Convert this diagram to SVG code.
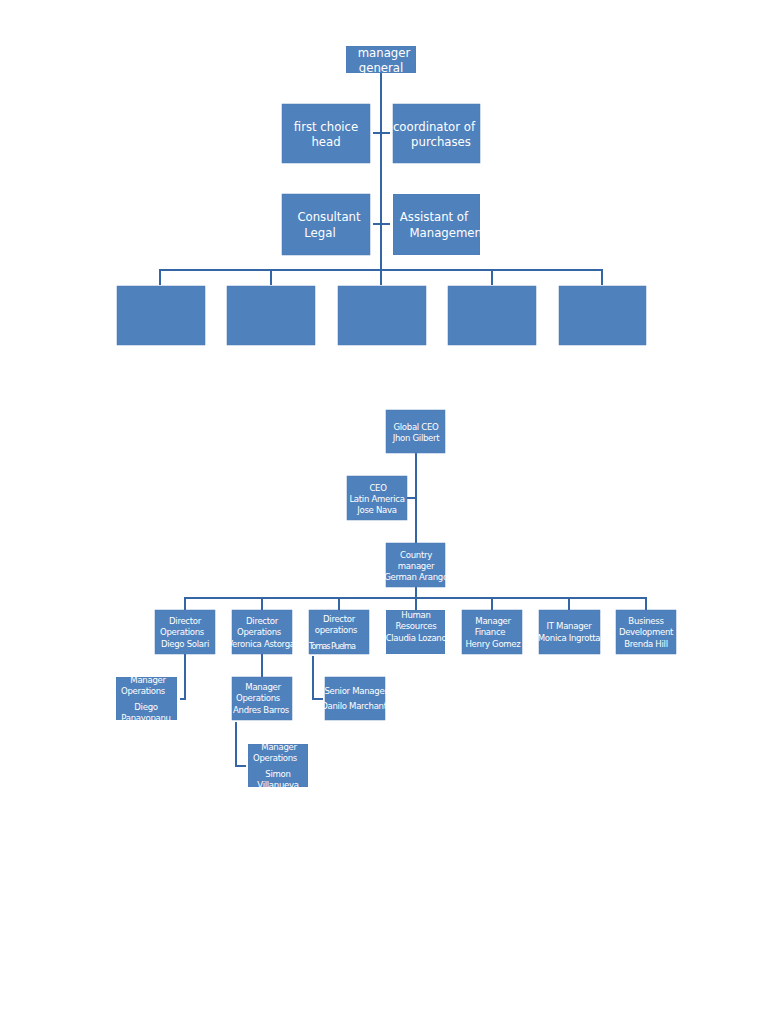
<svg xmlns="http://www.w3.org/2000/svg" width="768" height="1024" viewBox="0 0 768 1024">
<style>
rect{fill:#4f81bd;stroke:#4a7ab3;stroke-width:0.5}
text{fill:#fff;font-family:"DejaVu Sans Condensed","Liberation Sans Narrow","Liberation Sans",sans-serif;text-anchor:middle}
.b{font-size:13px}
.s{font-size:9.5px;letter-spacing:-0.3px}
.c path{fill:none;stroke:#3465a4;stroke-width:2}
</style>
<defs>
<clipPath id="k1"><rect x="346" y="46" width="70" height="27"/></clipPath>
<clipPath id="k2"><rect x="393" y="194" width="87" height="61"/></clipPath>
<clipPath id="k3"><rect x="116" y="677" width="61" height="43"/></clipPath>
<clipPath id="k4"><rect x="248" y="744" width="60" height="43"/></clipPath>
<clipPath id="k5"><rect x="386" y="610" width="59" height="44"/></clipPath>
</defs>
<g class="c">
<path d="M381 73V270M373 133H390M373 224H390M160 285V270H602V285M271 270V285M381 270V285M492 270V285"/>
<path d="M416 453V598M407 498H416M185 610V598H646V610M262 598V610M339 598V610M416 598V610M492 598V610M569 598V610"/>
<path d="M185 654V699H180M262 654V677M313 656V699H323M236 722V766H246"/>
</g>
<g id="n1" clip-path="url(#k1)"><rect x="346" y="46" width="70" height="27"/><text class="b" x="384" y="57">manager</text><text class="b" x="381" y="72">general</text></g>
<g id="n2"><rect x="282" y="104" width="88" height="59"/><text class="b" x="326" y="131">first choice</text><text class="b" x="326" y="146">head</text></g>
<g id="n3"><rect x="393" y="104" width="87" height="59"/><text class="b" x="434" y="131">coordinator of</text><text class="b" x="441" y="146">purchases</text></g>
<g id="n4"><rect x="282" y="194" width="88" height="61"/><text class="b" x="329" y="221">Consultant</text><text class="b" x="320" y="237">Legal</text></g>
<g id="n5" clip-path="url(#k2)"><rect x="393" y="194" width="87" height="61"/><text class="b" x="434" y="221">Assistant of</text><text class="b" x="448" y="237">Management</text></g>
<g id="e1"><rect x="117" y="286" width="88" height="59"/></g>
<g id="e2"><rect x="227" y="286" width="88" height="59"/></g>
<g id="e3"><rect x="338" y="286" width="88" height="59"/></g>
<g id="e4"><rect x="448" y="286" width="88" height="59"/></g>
<g id="e5"><rect x="559" y="286" width="87" height="59"/></g>
<g id="g1"><rect x="386" y="410" width="59" height="43"/><text class="s" x="416" y="430">Global CEO</text><text class="s" x="416" y="441">Jhon Gilbert</text></g>
<g id="g2"><rect x="347" y="476" width="60" height="44"/><text class="s" x="378" y="491">CEO</text><text class="s" x="377" y="502">Latin America</text><text class="s" x="377" y="513">Jose Nava</text></g>
<g id="g3"><rect x="386" y="543" width="59" height="44"/><text class="s" x="416" y="558">Country</text><text class="s" x="416" y="569">manager</text><text class="s" x="416" y="580">German Arango</text></g>
<g id="d1"><rect x="155" y="610" width="60" height="44"/><text class="s" x="185" y="624">Director</text><text class="s" x="182" y="635">Operations</text><text class="s" x="185" y="647">Diego Solari</text></g>
<g id="d2"><rect x="232" y="610" width="60" height="44"/><text class="s" x="262" y="624">Director</text><text class="s" x="259" y="635">Operations</text><text class="s" x="261" y="647">Veronica Astorga</text></g>
<g id="d3"><rect x="309" y="610" width="60" height="44"/><text class="s" x="339" y="622">Director</text><text class="s" x="336" y="633">operations</text><text class="s" x="332" y="649" style="letter-spacing:-1px;font-size:9px">Tomas Puelma</text></g>
<g id="d4" clip-path="url(#k5)"><rect x="386" y="610" width="59" height="44"/><text class="s" x="416" y="618">Human</text><text class="s" x="416" y="629">Resources</text><text class="s" x="416" y="641">Claudia Lozano</text></g>
<g id="d5"><rect x="462" y="610" width="60" height="44"/><text class="s" x="493" y="624">Manager</text><text class="s" x="490" y="635">Finance</text><text class="s" x="493" y="647">Henry Gomez</text></g>
<g id="d6"><rect x="539" y="610" width="61" height="44"/><text class="s" x="569" y="629">IT Manager</text><text class="s" x="569" y="641">Monica Ingrotta</text></g>
<g id="d7"><rect x="616" y="610" width="60" height="44"/><text class="s" x="646" y="624">Business</text><text class="s" x="646" y="635">Development</text><text class="s" x="646" y="647">Brenda Hill</text></g>
<g id="m1" clip-path="url(#k3)"><rect x="116" y="677" width="61" height="43"/><text class="s" x="148" y="683">Manager</text><text class="s" x="143" y="694">Operations</text><text class="s" x="146" y="710">Diego</text><text class="s" x="146" y="721">Panayopanu</text></g>
<g id="m2"><rect x="232" y="677" width="60" height="43"/><text class="s" x="263" y="690">Manager</text><text class="s" x="258" y="701">Operations</text><text class="s" x="261" y="713">Andres Barros</text></g>
<g id="m3"><rect x="325" y="677" width="60" height="43"/><text class="s" x="356" y="694">Senior Manager</text><text class="s" x="354" y="709">Danilo Marchant</text></g>
<g id="m4" clip-path="url(#k4)"><rect x="248" y="744" width="60" height="43"/><text class="s" x="279" y="750">Manager</text><text class="s" x="275" y="761">Operations</text><text class="s" x="278" y="777">Simon</text><text class="s" x="278" y="788">Villanueva</text></g>
</svg>
